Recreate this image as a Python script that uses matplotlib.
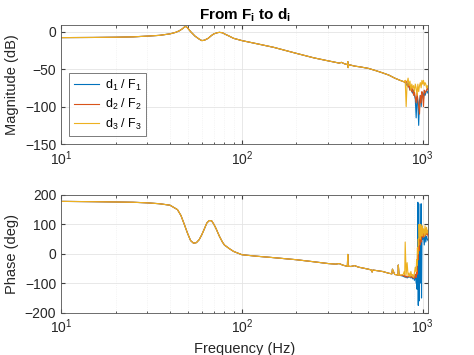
import matplotlib
matplotlib.use("Agg")
import matplotlib.pyplot as plt
import numpy as np

plt.rcParams['font.family'] = ['Liberation Sans', 'DejaVu Sans']
plt.rcParams['mathtext.fontset'] = 'custom'
plt.rcParams['mathtext.rm'] = 'Liberation Sans'
plt.rcParams['mathtext.it'] = 'Liberation Sans'
plt.rcParams['mathtext.bf'] = 'Liberation Sans:bold'

# --- magnitude, shared part (all three measurements overlap here) ---
f_mag = [10, 15, 20, 25, 30, 35, 40, 43, 45, 47, 48, 49, 50, 52, 55, 58, 60, 62, 65,
         68, 70, 73, 75, 78, 80, 85, 90, 100, 120, 150, 200, 250, 300, 330, 345, 355,
         370, 383, 385, 387, 390, 420, 450, 500, 550, 600, 650, 700, 750, 790]
mag_common = [-8, -7.8, -7.5, -7, -6, -5, -3, -1, 1, 4, 6, 7, 5, 0, -6, -10, -12, -11.5, -9,
              -5, -3, -1.5, -1, -1.5, -3, -6, -9, -12, -16, -21, -29, -35, -39, -41, -42, -41,
              -43, -44, -40, -48, -44, -46, -47, -49, -52, -55, -58, -62, -65, -67]

# --- magnitude, noisy tail above ~800 Hz ---
f_tail = [800, 810, 820, 830, 840, 850, 860, 870, 880, 890, 900, 910, 920, 930, 940,
          950, 960, 970, 980, 990, 1000, 1010, 1020, 1030, 1040, 1050, 1060, 1070]
mag1_tail = [-68, -70, -72, -68, -74, -78, -75, -80, -82, -78, -85, -90, -115, -88, -95,
             -125, -92, -85, -100, -88, -82, -90, -80, -85, -82, -78, -80, -82]
mag2_tail = [-68, -66, -70, -74, -70, -78, -72, -80, -76, -85, -80, -88, -95, -82, -90,
             -100, -110, -85, -95, -80, -85, -100, -78, -82, -80, -78, -75, -78]
mag3_tail = [-65, -100, -68, -62, -72, -66, -78, -70, -75, -72, -80, -70, -75, -85, -70,
             -80, -72, -68, -75, -65, -70, -65, -72, -68, -70, -75, -72, -75]

# --- phase, shared part ---
f_ph = [10, 15, 20, 25, 30, 35, 40, 44, 46, 48, 50, 52, 54, 56, 58, 60, 62, 64, 66, 68,
        70, 72, 75, 78, 80, 85, 90, 100, 120, 150, 200, 250, 300, 330, 345, 360, 375,
        383, 385, 387, 400, 420, 440, 500, 520, 525, 530, 600, 650, 675, 680, 700, 730,
        733, 740]
ph_common = [178, 177, 176, 175, 173, 170, 165, 150, 130, 100, 70, 45, 36, 38, 48, 65, 85,
             105, 113, 112, 100, 85, 60, 40, 30, 18, 8, -3, -8, -13, -20, -27, -33, -35,
             -33, -38, -41, -42, -2, -42, -43, -40, -45, -52, -55, -62, -55, -60, -66, -68,
             -52, -70, -72, -38, -73]

# --- phase, noisy tail ---
f_ph_tail = [760, 780, 790, 795, 800, 810, 820, 830, 840, 850, 860, 870, 880, 890, 900,
             910, 920, 925, 930, 935, 940, 945, 950, 955, 960, 965, 970, 975, 980, 985,
             990, 995, 1000, 1010, 1020, 1030, 1040, 1050, 1060, 1070]
ph1_tail = [-74, -76, -78, -75, -80, -77, -82, -78, -80, -76, -82, -78, -85, -80, -90,
            -70, -100, -60, -120, -40, 175, -175, 170, -160, 20, -100, 60, 30, 170, -150,
            40, 80, 50, 60, 30, 70, 40, 60, 50, 45]
ph2_tail = [-72, -74, -76, -73, -78, -75, -80, -76, -78, -74, -80, -76, -82, -78, -84,
            -70, -80, -55, -70, -30, 0, -20, 40, 10, 60, 30, 80, 50, 70, 40,
            90, 60, 70, 55, 80, 60, 75, 65, 70, 60]
ph3_tail = [-72, -70, -60, -72, 40, -70, -30, -75, -65, -78, -60, -75, -70, -80, -65,
            -45, -60, -20, -40, 20, 0, 50, 30, 100, 60, 90, 50, 100, 70, 90,
            60, 95, 70, 85, 60, 95, 65, 90, 70, 80]

labels = [r'd$_1$ / F$_1$', r'd$_2$ / F$_2$', r'd$_3$ / F$_3$']
colors = ['#0072BD', '#D95319', '#EDB120']

fm = f_mag + f_tail
fp = f_ph + f_ph_tail
mags = [mag_common + mag1_tail, mag_common + mag2_tail, mag_common + mag3_tail]
phases = [ph_common + ph1_tail, ph_common + ph2_tail, ph_common + ph3_tail]

fig = plt.figure(figsize=(4.74, 3.55), dpi=100)
ax1 = fig.add_axes([0.129, 0.594, 0.774, 0.336])
ax2 = fig.add_axes([0.129, 0.119, 0.774, 0.332])

for i in range(3):
    ax1.semilogx(fm, mags[i], color=colors[i], linewidth=0.8, label=labels[i])
    ax2.semilogx(fp, phases[i], color=colors[i], linewidth=0.8)


def style(ax):
    ax.set_xlim(10, 1070)
    ax.grid(True, which='major', color='#e4e4e4', linewidth=0.6)
    ax.grid(True, which='minor', color='#ececec', linewidth=0.5, linestyle=':')
    ax.tick_params(which='both', direction='in', top=True, right=True,
                   colors='#404040', labelcolor='#262626', labelsize=10)
    ax.tick_params(which='major', length=3)
    ax.tick_params(which='minor', length=1.8)
    for s in ax.spines.values():
        s.set_color('#555555')
        s.set_linewidth(0.6)
    ax.set_axisbelow(True)


style(ax1)
style(ax2)

ax1.set_ylim(-150, 9)
ax1.set_yticks([-150, -100, -50, 0])
ax1.set_ylabel('Magnitude (dB)', fontsize=10.5, color='#262626')
ax1.set_title(r'From F$_\mathbf{i}$ to d$_\mathbf{i}$', fontsize=11, fontweight='bold', pad=4)

ax2.set_ylim(-200, 200)
ax2.set_yticks([-200, -100, 0, 100, 200])
ax2.set_ylabel('Phase (deg)', fontsize=10.5, color='#262626')
ax2.set_xlabel('Frequency (Hz)', fontsize=10.5, color='#262626')

leg = ax1.legend(loc='lower left', bbox_to_anchor=(0.022, 0.067), borderaxespad=0,
                 fontsize=9, frameon=True, fancybox=False, handlelength=2.0,
                 handletextpad=0.5, labelspacing=0.35, borderpad=0.35)
leg.get_frame().set_edgecolor('#404040')
leg.get_frame().set_linewidth(0.6)

fig.savefig('out.png', dpi=100)
